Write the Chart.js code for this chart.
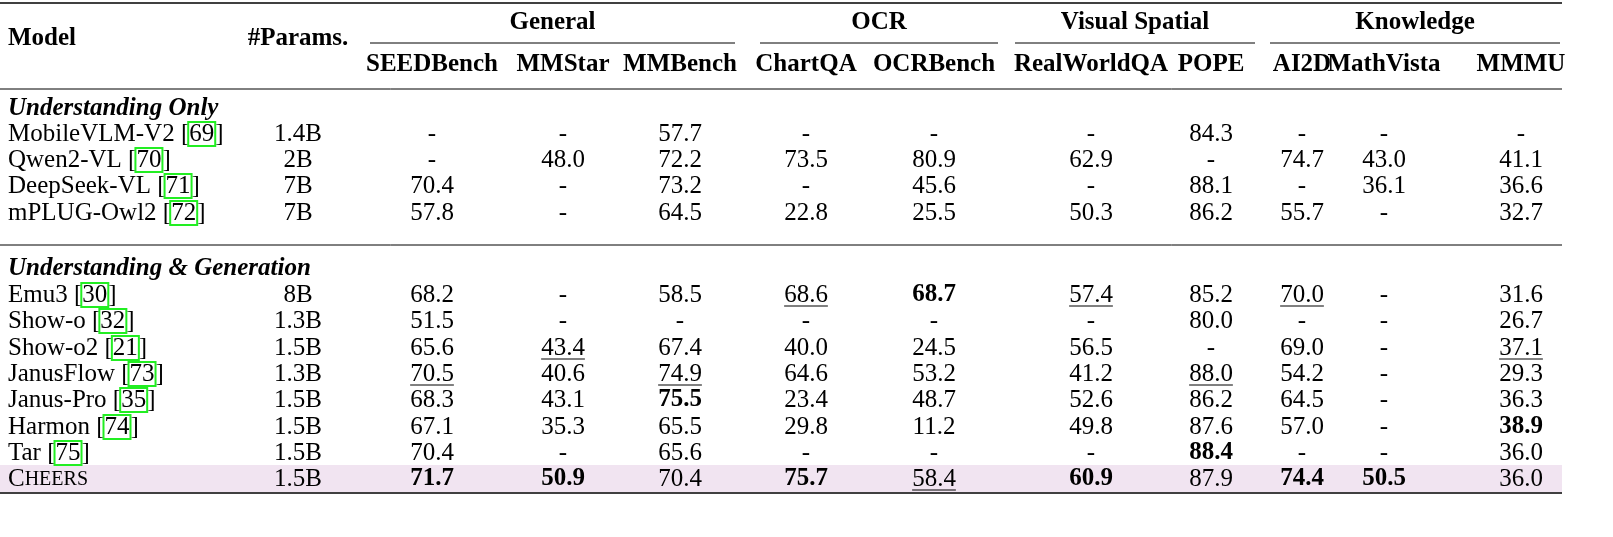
<!DOCTYPE html>
<html><head><meta charset="utf-8">
<script src="https://cdn.jsdelivr.net/npm/chart.js@4/dist/chart.umd.min.js"></script>
<style>html,body{margin:0;padding:0;background:#fff;overflow:hidden}#w{width:1613px;height:537px}</style>
</head><body><div id="w"><canvas id="c" width="1613" height="537" style="width:1613px;height:537px"></canvas></div>
<script>
const groups = ["General","OCR","Visual Spatial","Knowledge"];
const benchmarks = ["SEEDBench","MMStar","MMBench","ChartQA","OCRBench","RealWorldQA","POPE","AI2D","MathVista","MMMU"];
const sections = ["Understanding Only","Understanding & Generation"];
const models = ["MobileVLM-V2","Qwen2-VL","DeepSeek-VL","mPLUG-Owl2","Emu3","Show-o","Show-o2","JanusFlow","Janus-Pro","Harmon","Tar","CHEERS"];
const cites = ["69","70","71","72","30","32","21","73","35","74","75",""];
const params = ["1.4B","2B","7B","7B","8B","1.3B","1.5B","1.3B","1.5B","1.5B","1.5B","1.5B"];
// ** = bold, _ = underlined
const values = [
 ["-","-","57.7","-","-","-","84.3","-","-","-"],
 ["-","48.0","72.2","73.5","80.9","62.9","-","74.7","43.0","41.1"],
 ["70.4","-","73.2","-","45.6","-","88.1","-","36.1","36.6"],
 ["57.8","-","64.5","22.8","25.5","50.3","86.2","55.7","-","32.7"],
 ["68.2","-","58.5","_68.6","**68.7","_57.4","85.2","_70.0","-","31.6"],
 ["51.5","-","-","-","-","-","80.0","-","-","26.7"],
 ["65.6","_43.4","67.4","40.0","24.5","56.5","-","69.0","-","_37.1"],
 ["_70.5","40.6","_74.9","64.6","53.2","41.2","_88.0","54.2","-","29.3"],
 ["68.3","43.1","**75.5","23.4","48.7","52.6","86.2","64.5","-","36.3"],
 ["67.1","35.3","65.5","29.8","11.2","49.8","87.6","57.0","-","**38.9"],
 ["70.4","-","65.6","-","-","-","**88.4","-","-","36.0"],
 ["**71.7","**50.9","70.4","**75.7","_58.4","**60.9","87.9","**74.4","**50.5","36.0"]
];

// layout
const colX = [432,563,680,806,934,1091,1211,1302,1384,1521];
const groupSpan = [[370,735],[760,998],[1015,1255],[1270,1560]];
const rowY = [134,160,186,213,295,321,348,374,400,427,453,479];
const FONT = '"Liberation Serif","Times New Roman",serif';
const FS = 25;

const pts = [];
values.forEach((r,i)=>r.forEach((v,j)=>pts.push({x:colX[j],y:rowY[i],t:v})));

const tablePlugin = {
 id:'table',
 beforeDatasetsDraw(chart){
  const {ctx, scales:{x,y}} = chart;
  const X=v=>x.getPixelForValue(v), Y=v=>y.getPixelForValue(v);
  ctx.save();
  ctx.fillStyle='#f1e4f1';
  ctx.fillRect(X(0),Y(465),X(1562)-X(0),Y(492)-Y(465));
  ctx.strokeStyle='#000';
  const hl=(x1,x2,yy,w)=>{ctx.lineWidth=w;ctx.beginPath();ctx.moveTo(X(x1),Y(yy));ctx.lineTo(X(x2),Y(yy));ctx.stroke();};
  hl(0,1562,3,1.6); hl(0,1562,89,1); hl(0,1562,245,1); hl(0,1562,493,1.6);
  groupSpan.forEach(s=>hl(s[0],s[1],43,1));
  ctx.fillStyle='#000'; ctx.textBaseline='middle';
  const txt=(s,xx,yy,al,st)=>{ctx.font=(st||'')+' '+FS+'px '+FONT;ctx.textAlign=al;ctx.fillText(s,X(xx),Y(yy));};
  txt('Model',8,39,'left','bold'); txt('#Params.',298,39,'center','bold');
  groups.forEach((g,i)=>txt(g,(groupSpan[i][0]+groupSpan[i][1])/2,23,'center','bold'));
  benchmarks.forEach((b,i)=>txt(b,colX[i],65,'center','bold'));
  txt(sections[0],8,109,'left','italic bold'); txt(sections[1],8,269,'left','italic bold');
  models.forEach((m,i)=>{
   const yy=rowY[i];
   if(m==='CHEERS'){
    ctx.font=FS+'px '+FONT; ctx.textAlign='left'; ctx.fillText('C',X(8),Y(yy));
    const w=ctx.measureText('C').width;
    ctx.font=Math.round(FS*0.78)+'px '+FONT; ctx.fillText('HEERS',X(8)+w,Y(yy)+1);
   } else {
    ctx.font=FS+'px '+FONT; ctx.textAlign='left';
    const a=m+' [', w1=ctx.measureText(a).width, w2=ctx.measureText(cites[i]).width;
    ctx.fillText(a,X(8),Y(yy)); ctx.fillText(cites[i],X(8)+w1,Y(yy)); ctx.fillText(']',X(8)+w1+w2+1,Y(yy));
    ctx.strokeStyle='#22ee22'; ctx.lineWidth=2;
    ctx.strokeRect(X(8)+w1-1,Y(yy)-12,w2+2,24);
   }
   txt(params[i],298,yy,'center');
  });
  ctx.restore();
 },
 afterDatasetsDraw(chart){
  const {ctx, scales:{x,y}} = chart;
  ctx.save(); ctx.fillStyle='#000'; ctx.strokeStyle='#000'; ctx.textBaseline='middle'; ctx.textAlign='center';
  chart.data.datasets[0].data.forEach(p=>{
   let s=p.t, st='', ul=false;
   if(s.startsWith('**')){s=s.slice(2);st='bold ';}
   if(s.startsWith('_')){s=s.slice(1);ul=true;}
   ctx.font=st+FS+'px '+FONT;
   const px=x.getPixelForValue(p.x), py=y.getPixelForValue(p.y);
   ctx.fillText(s,px,py);
   if(ul){const w=ctx.measureText(s).width;ctx.lineWidth=1;ctx.beginPath();ctx.moveTo(px-w/2,py+11);ctx.lineTo(px+w/2,py+11);ctx.stroke();}
  });
  ctx.restore();
 }
};

new Chart(document.getElementById('c'),{
 type:'scatter',
 data:{datasets:[{data:pts,pointRadius:0,pointHoverRadius:0,clip:false}]},
 options:{responsive:false,maintainAspectRatio:false,animation:false,devicePixelRatio:1,
  layout:{padding:0},
  plugins:{legend:{display:false},tooltip:{enabled:false}},
  scales:{x:{type:'linear',min:0,max:1613,display:false,bounds:'ticks'},y:{type:'linear',min:0,max:537,reverse:true,display:false}}},
 plugins:[tablePlugin]
});
</script></body></html>
